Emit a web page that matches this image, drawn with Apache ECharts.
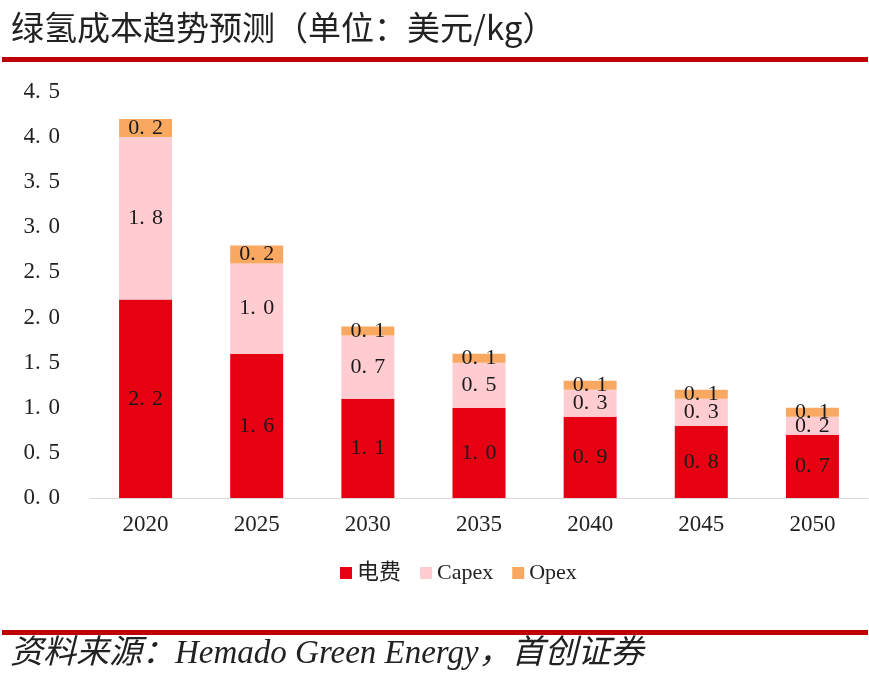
<!DOCTYPE html>
<html>
<head>
<meta charset="utf-8">
<script src="https://cdn.jsdelivr.net/npm/echarts@6/dist/echarts.min.js"></script>
<style>
  html, body { margin: 0; padding: 0; background: #fff; }
  #chart { width: 869px; height: 681px; }
</style>
</head>
<body>
<div id="chart"></div>
<script>
const years = ['2020', '2025', '2030', '2035', '2040', '2045', '2050']
const power = [2.2, 1.6, 1.1, 1.0, 0.9, 0.8, 0.7]
const capex = [1.8, 1.0, 0.7, 0.5, 0.3, 0.3, 0.2]
const opex = [0.2, 0.2, 0.1, 0.1, 0.1, 0.1, 0.1]

const serif = '"Liberation Serif", "Noto Sans CJK SC", serif'
// the source uses a wide full-stop, so pad it a little
const fmt = v => v.toFixed(1).replace('.', '.\u2004')

const chart = echarts.init(document.getElementById('chart'))

const seg = (name, data, color) => ({
  name,
  type: 'bar',
  stack: 'cost',
  barWidth: 53,
  data,
  itemStyle: { color },
  label: {
    show: true,
    position: 'inside',
    color: '#1a1a1a',
    fontFamily: serif,
    fontSize: 22,
    formatter: p => fmt(p.value),
  },
})

chart.setOption({
  animation: false,
  title: {
    text: '绿氢成本趋势预测（单位：美元/kg）',
    left: 6,
    top: 6,
    textStyle: { fontFamily: '"Noto Sans CJK SC"', fontSize: 33, fontWeight: 'normal', color: '#222' },
  },
  graphic: [
    { type: 'rect', shape: { x: 2, y: 57, width: 866, height: 5 }, style: { fill: '#c00000' } },
    { type: 'rect', shape: { x: 2, y: 630, width: 866, height: 5 }, style: { fill: '#c00000' } },
    {
      type: 'text', left: 10, top: 638,
      style: {
        text: '资料来源：Hemado Green Energy，首创证券',
        font: 'italic 33px "Liberation Serif", "Noto Sans CJK SC"',
        fill: '#222',
      },
    },
  ],
  legend: {
    left: 335,
    top: 557,
    itemWidth: 12,
    itemHeight: 12,
    itemGap: 19,
    icon: 'rect',
    textStyle: { fontFamily: serif, fontSize: 22, color: '#222' },
    data: ['电费', 'Capex', 'Opex'],
  },
  grid: { left: 90, right: 1, top: 92, bottom: 183 },
  xAxis: {
    type: 'category',
    data: years,
    axisLine: { lineStyle: { color: '#d9d9d9', width: 1 } },
    axisTick: { show: false },
    axisLabel: { fontFamily: serif, fontSize: 23, color: '#222', margin: 15 },
  },
  yAxis: {
    type: 'value',
    min: 0,
    max: 4.5,
    interval: 0.5,
    splitLine: { show: false },
    axisLine: { show: false },
    axisTick: { show: false },
    axisLabel: { fontFamily: serif, fontSize: 23, color: '#222', margin: 30, formatter: fmt },
  },
  series: [
    seg('电费', power, '#e60012'),
    seg('Capex', capex, '#ffccd2'),
    seg('Opex', opex, '#f9a862'),
  ],
})
</script>
</body>
</html>
